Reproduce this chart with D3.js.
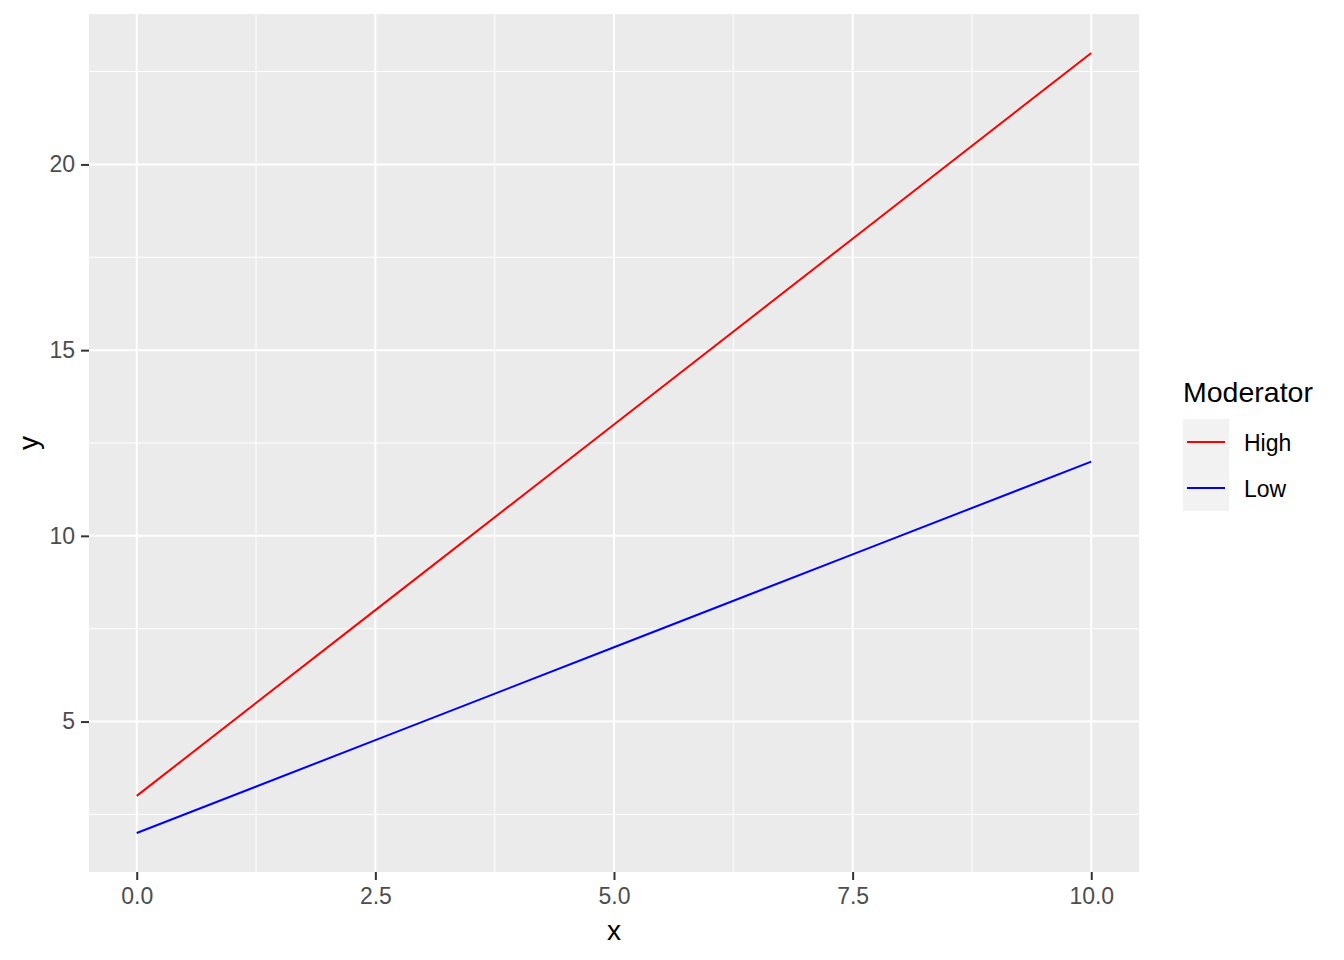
<!DOCTYPE html>
<html>
<head>
<meta charset="utf-8">
<style>
    body { margin: 0; background: white; overflow: hidden; }
    svg { display: block; font-family: "Liberation Sans", Arial, sans-serif; }
    .tick text { font-size: 23px; fill: #4D4D4D; }
    .tick line { stroke: #333333; stroke-width: 2; }
    .domain { display: none; }
</style>
<script src="https://cdn.jsdelivr.net/npm/d3@7"></script>
</head>
<body>
<script>
// data
const xValues = [0, 2.5, 5, 7.5, 10];
const highValues = [3, 8, 13, 18, 23];
const lowValues = [2, 4.5, 7, 9.5, 12];
const seriesNames = ["High", "Low"];
const seriesColors = ["#FF0000", "#0000FF"];
const xTicks = [0, 2.5, 5, 7.5, 10];
const xMinor = [1.25, 3.75, 6.25, 8.75];
const yTicks = [5, 10, 15, 20];
const yMinor = [2.5, 7.5, 12.5, 17.5, 22.5];

const width = 1344, height = 960;
const panel = { left: 89, right: 1139, top: 14, bottom: 872 };

const series = [
    { name: seriesNames[0], color: seriesColors[0], values: xValues.map((x, i) => ({ x, y: highValues[i] })) },
    { name: seriesNames[1], color: seriesColors[1], values: xValues.map((x, i) => ({ x, y: lowValues[i] })) }
];

// ggplot style 5% expansion
const allY = highValues.concat(lowValues);
const yMin = d3.min(allY), yMax = d3.max(allY);
const yPad = (yMax - yMin) * 0.05;
const xPad = (d3.max(xValues) - d3.min(xValues)) * 0.05;

const x = d3.scaleLinear()
    .domain([d3.min(xValues) - xPad, d3.max(xValues) + xPad])
    .range([panel.left, panel.right]);
const y = d3.scaleLinear()
    .domain([yMin - yPad, yMax + yPad])
    .range([panel.bottom, panel.top]);

const svg = d3.select("body").append("svg")
    .attr("width", width)
    .attr("height", height);

svg.append("rect")
    .attr("x", panel.left).attr("y", panel.top)
    .attr("width", panel.right - panel.left)
    .attr("height", panel.bottom - panel.top)
    .attr("fill", "#EBEBEB");

const grid = svg.append("g");
grid.selectAll(".vminor").data(xMinor).join("line")
    .attr("x1", d => x(d)).attr("x2", d => x(d))
    .attr("y1", panel.top).attr("y2", panel.bottom)
    .attr("stroke", "white").attr("stroke-width", 1);
grid.selectAll(".hminor").data(yMinor).join("line")
    .attr("y1", d => y(d)).attr("y2", d => y(d))
    .attr("x1", panel.left).attr("x2", panel.right)
    .attr("stroke", "white").attr("stroke-width", 1);
grid.selectAll(".vmajor").data(xTicks).join("line")
    .attr("x1", d => x(d)).attr("x2", d => x(d))
    .attr("y1", panel.top).attr("y2", panel.bottom)
    .attr("stroke", "white").attr("stroke-width", 2);
grid.selectAll(".hmajor").data(yTicks).join("line")
    .attr("y1", d => y(d)).attr("y2", d => y(d))
    .attr("x1", panel.left).attr("x2", panel.right)
    .attr("stroke", "white").attr("stroke-width", 2);

// lines
const line = d3.line().x(d => x(d.x)).y(d => y(d.y));
svg.append("g").selectAll("path")
    .data(series)
    .join("path")
    .attr("d", d => line(d.values))
    .attr("fill", "none")
    .attr("stroke", d => d.color)
    .attr("stroke-width", 2);

// axes
svg.append("g")
    .attr("transform", `translate(0,${panel.bottom})`)
    .call(d3.axisBottom(x).tickValues(xTicks).tickFormat(d3.format(".1f")).tickSizeInner(8).tickSizeOuter(0).tickPadding(8));

svg.append("g")
    .attr("transform", `translate(${panel.left},0)`)
    .call(d3.axisLeft(y).tickValues(yTicks).tickFormat(d3.format("d")).tickSizeInner(8).tickSizeOuter(0).tickPadding(6));

// axis titles
svg.append("text")
    .attr("x", (panel.left + panel.right) / 2)
    .attr("y", 940)
    .attr("text-anchor", "middle")
    .attr("font-size", 28)
    .text("x");

svg.append("text")
    .attr("transform", `translate(38,${(panel.top + panel.bottom) / 2}) rotate(-90)`)
    .attr("text-anchor", "middle")
    .attr("font-size", 28)
    .text("y");

// legend
const legend = svg.append("g").attr("transform", "translate(1183,0)");
legend.append("text")
    .attr("x", 0).attr("y", 402)
    .attr("font-size", 28.5)
    .text("Moderator");

const keys = legend.selectAll(".key")
    .data(series)
    .join("g")
    .attr("transform", (d, i) => `translate(0,${419 + i * 46})`);
keys.append("rect")
    .attr("width", 46).attr("height", 46)
    .attr("fill", "#F2F2F2");
keys.append("line")
    .attr("x1", 4).attr("x2", 42)
    .attr("y1", 23).attr("y2", 23)
    .attr("stroke", d => d.color)
    .attr("stroke-width", 2);
keys.append("text")
    .attr("x", 61).attr("y", 24)
    .attr("dy", "0.35em")
    .attr("font-size", 23)
    .text(d => d.name);
</script>
</body>
</html>
